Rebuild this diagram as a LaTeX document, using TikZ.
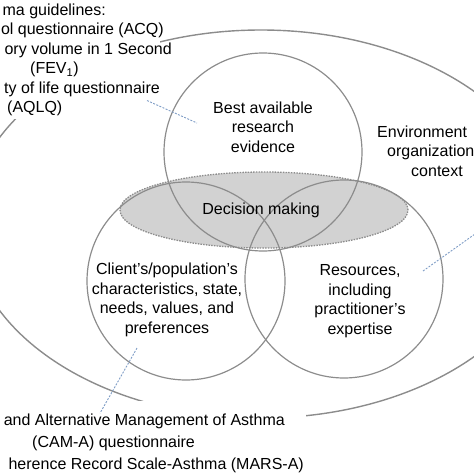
\documentclass[tikz,border=0pt]{standalone}
\usepackage{fontspec}
\setmainfont{Liberation Sans}
\usepackage{tikz}
\usepackage{xcolor}

\definecolor{ringgray}{HTML}{8C8C8C}
\definecolor{decgray}{HTML}{D2D2D2}
\definecolor{pointblue}{HTML}{7F9DC6}

\begin{document}
\begin{tikzpicture}[x=1pt, y=-1pt,
    every node/.style={font=\fontsize{16}{19.6}\selectfont, inner sep=0pt},
    ring/.style={color=ringgray, line width=1.2pt},
    pointer/.style={color=pointblue, line width=0.9pt, dash pattern=on 2pt off 1.4pt}]
    \def\r{99pt}
    \def\ea{292pt}
    \def\eb{194pt}

    \useasboundingbox (0,0) rectangle (474,474);
    \clip (0,0) rectangle (474,474);

    % environment ellipse
    \draw[ring, line width=1.4pt] (261,224) ellipse [x radius=\ea, y radius=\eb];

    % the side texts sit on white
    \fill[white] (0,0) rectangle (160,119);
    \fill[white] (0,401) rectangle (306,474);

    % decision making
    \draw[fill=decgray, draw=ringgray, line width=1.3pt, dash pattern=on 1.5pt off 1.2pt]
        (264,210) ellipse [x radius=144pt, y radius=38pt];

    \draw[ring] (263,152) circle [radius=\r]; % research
    \draw[ring] (186,281) circle [radius=\r]; % client
    \draw[ring] (344,279) circle [radius=\r]; % resources

    \node[align=center] (evidence) at (263,127) {Best available\\research\\evidence};
    \node (decision) at (261,210) {Decision making};
    \node[align=center] (client) at (167,300) {Client's/population's\\characteristics, state,\\needs, values, and\\preferences};
    \node[align=center] (resources) at (360,301) {Resources,\\including\\practitioner's\\expertise};

    \node[anchor=west] (env1) at (377,132) {Environment};
    \node[anchor=west] (env2) at (387,152) {organization};
    \node (env3) at (437,171) {context};

    % guidelines
    \node[anchor=base east] (guide1) at (106,15) {ma guidelines:};
    \node[anchor=base east] (guide2) at (164,34.5) {ol questionnaire (ACQ)};
    \node[anchor=base east] (guide3) at (172,54) {ory volume in 1 Second};
    \node[anchor=base west] (guide4) at (30,73.5) {(FEV\textsubscript{1})};
    \node[anchor=base east] (guide5) at (160,93) {ty of life questionnaire};
    \node[anchor=base west] (guide6) at (7,112.5) {(AQLQ)};

    % tools
    \node[anchor=base east] (tool1) at (285,425) {and Alternative Management of Asthma};
    \node[anchor=base west] (tool2) at (32,447.5) {(CAM-A) questionnaire};
    \node[anchor=base east] (tool3) at (304,469) {herence Record Scale-Asthma (MARS-A)};

    \coordinate (guidetip) at (197,123);
    \coordinate (clienttip) at (137,348);
    \coordinate (restip) at (423,271);
    \coordinate (resout) at (482,229);

    \draw[pointer] ([xshift=-13pt, yshift=-4pt]guide5.south east) -- (guidetip);
    \draw[pointer] (clienttip) -- (100,0 |- tool1.north);
    \draw[pointer] (restip) -- (resout);

\end{tikzpicture}
\end{document}
